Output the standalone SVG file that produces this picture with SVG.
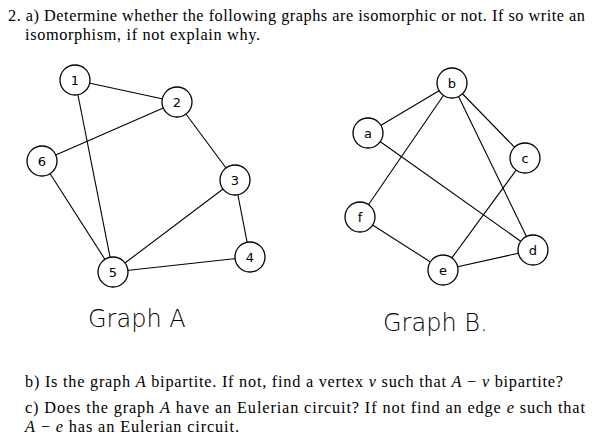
<svg xmlns="http://www.w3.org/2000/svg" width="609" height="442" viewBox="0 0 609 442">
<style>
.t{font-family:"Liberation Serif",serif;font-size:16.3px;fill:#000}
.n circle{fill:#fff;stroke:#000;stroke-width:1.3}
.n text{font-family:"DejaVu Sans",sans-serif;font-size:13px;text-anchor:middle;dominant-baseline:central}
#edges line{stroke:#000;stroke-width:1.1}
.h{font-family:"DejaVu Sans",sans-serif;font-size:24px;font-weight:300}
</style>
<rect width="609" height="442" fill="#fff"/>
<text class="t" x="8" y="21" textLength="577">2. a) Determine whether the following graphs are isomorphic or not. If so write an</text>
<text class="t" x="25" y="40" textLength="235">isomorphism, if not explain why.</text>
<g id="edges">
<line x1="75" y1="80" x2="177" y2="102"/><line x1="75" y1="80" x2="113" y2="272"/>
<line x1="177" y1="102" x2="42" y2="161"/><line x1="177" y1="102" x2="235" y2="180"/>
<line x1="42" y1="161" x2="113" y2="272"/><line x1="235" y1="180" x2="113" y2="272"/>
<line x1="235" y1="180" x2="250" y2="257"/><line x1="113" y1="272" x2="250" y2="257"/>
<line x1="368" y1="133" x2="452" y2="83"/><line x1="368" y1="133" x2="533" y2="250"/>
<line x1="452" y1="83" x2="360" y2="217"/><line x1="452" y1="83" x2="525" y2="158"/>
<line x1="452" y1="83" x2="533" y2="250"/><line x1="525" y1="158" x2="443" y2="270"/>
<line x1="360" y1="217" x2="443" y2="270"/><line x1="443" y1="270" x2="533" y2="250"/>
</g>
<g id="n1" class="n"><circle cx="75" cy="80" r="15"/><text x="75" y="80">1</text></g>
<g id="n2" class="n"><circle cx="177" cy="102" r="15"/><text x="177" y="102">2</text></g>
<g id="n6" class="n"><circle cx="42" cy="161" r="15"/><text x="42" y="161">6</text></g>
<g id="n3" class="n"><circle cx="235" cy="180" r="15"/><text x="235" y="180">3</text></g>
<g id="n4" class="n"><circle cx="250" cy="257" r="15"/><text x="250" y="257">4</text></g>
<g id="n5" class="n"><circle cx="113" cy="272" r="15"/><text x="113" y="272">5</text></g>
<g id="nb" class="n"><circle cx="452" cy="83" r="15"/><text x="452" y="83">b</text></g>
<g id="na" class="n"><circle cx="368" cy="133" r="15"/><text x="368" y="133">a</text></g>
<g id="nc" class="n"><circle cx="525" cy="158" r="15"/><text x="525" y="158">c</text></g>
<g id="nf" class="n"><circle cx="360" cy="217" r="15"/><text x="360" y="217">f</text></g>
<g id="nd" class="n"><circle cx="533" cy="250" r="15"/><text x="533" y="250">d</text></g>
<g id="ne" class="n"><circle cx="443" cy="270" r="15"/><text x="443" y="270">e</text></g>
<text class="h" x="88" y="327">Graph A</text>
<text class="h" x="383" y="331">Graph B.</text>
<text class="t" x="25" y="387" textLength="538">b) Is the graph <tspan font-style="italic">A</tspan> bipartite. If not, find a vertex <tspan font-style="italic">v</tspan> such that <tspan font-style="italic">A</tspan> − <tspan font-style="italic">v</tspan> bipartite?</text>
<text class="t" x="25" y="413" textLength="560">c) Does the graph <tspan font-style="italic">A</tspan> have an Eulerian circuit? If not find an edge <tspan font-style="italic">e</tspan> such that</text>
<text class="t" x="25" y="432" textLength="214"><tspan font-style="italic">A</tspan> − <tspan font-style="italic">e</tspan> has an Eulerian circuit.</text>
</svg>
